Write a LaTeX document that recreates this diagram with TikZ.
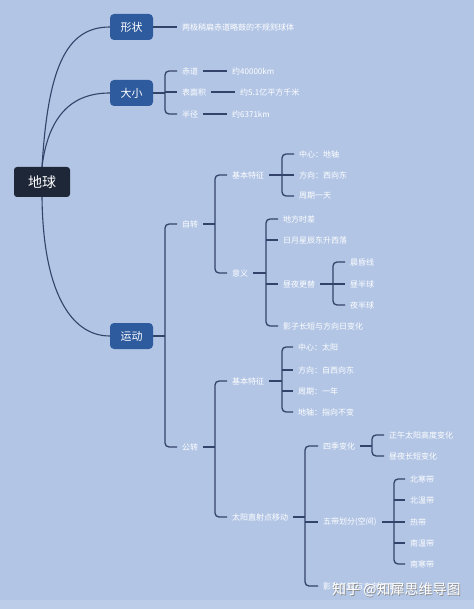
\documentclass[tikz,border=0pt]{standalone}
\usepackage{fontspec}
\setmainfont{Noto Sans CJK SC}
\definecolor{bg}{HTML}{B2C5E5}
\definecolor{bgl}{HTML}{BCCDEA}
\definecolor{boxb}{HTML}{2E5B9E}
\definecolor{boxd}{HTML}{1D2738}
\definecolor{ln}{HTML}{34436A}
\begin{document}
\begin{tikzpicture}[x=1pt,y=-1pt,
  conn/.style={draw=ln,line width=1.3pt,rounded corners=4pt},
  curve/.style={draw=ln,line width=1.1pt},
  lbl/.style={anchor=west,text=white,font=\fontsize{8}{9}\selectfont,inner xsep=5pt,inner ysep=1pt},
  mainbox/.style={fill=boxb,rounded corners=4pt,text=white,font=\fontsize{11}{12}\selectfont,minimum width=43pt,minimum height=26pt,inner sep=0pt},
  rootbox/.style={fill=boxd,rounded corners=3pt,text=white,font=\fontsize{14}{15}\selectfont,minimum width=56pt,minimum height=30pt,inner sep=0pt}]
\fill[bg] (0,0) rectangle (474,609);
\fill[bgl] (0,600) rectangle (474,609);
\useasboundingbox (0,0) rectangle (474,609);
% root and main boxes
\node[rootbox] (root) at (42,182) {地球};
\node[mainbox] (xz) at (131.5,27) {形状};
\node[mainbox] (dx) at (131.5,93) {大小};
\node[mainbox] (yd) at (131.5,336) {运动};
\draw[curve] (root.north) .. controls (48,70) and (65,27) .. (xz.west);
\draw[curve] (root.north) .. controls (48,118) and (70,93) .. (dx.west);
\draw[curve] (root.south) .. controls (43,290) and (70,336) .. (yd.west);
% 形状
\node[lbl] (xz1) at (177,27) {两极稍扁赤道略鼓的不规则球体};
\draw[conn] (xz.east) -- (xz1.west);
% 大小
\coordinate (bA) at (165,0);
\node[lbl] (cd) at (177,71) {赤道};
\node[lbl] (bmj) at (177,92) {表面积};
\node[lbl] (bj) at (177,114) {半径};
\node[lbl] (cdv) at (227,71) {约40000km};
\node[lbl] (bmjv) at (235,92) {约5.1亿平方千米};
\node[lbl] (bjv) at (227,114) {约6371km};
\draw[conn] (dx.east) -- (dx.east -| bA);
\draw[conn] (cd.west) -- (cd.west -| bA) -- (bj.west -| bA) -- (bj.west);
\draw[conn] (bmj.west -| bA) -- (bmj.west);
\draw[conn] (cd.east) -- (cdv.west);
\draw[conn] (bmj.east) -- (bmjv.west);
\draw[conn] (bj.east) -- (bjv.west);
% 运动
\node[lbl] (zz) at (177,224) {自转};
\node[lbl] (gz) at (177,447) {公转};
\draw[conn] (yd.east) -- (yd.east -| bA);
\draw[conn] (zz.west) -- (zz.west -| bA) -- (gz.west -| bA) -- (gz.west);
% 自转
\coordinate (bB) at (215,0);
\node[lbl] (zjb) at (227,175) {基本特征};
\node[lbl] (zyy) at (227,273) {意义};
\draw[conn] (zz.east) -- (zz.east -| bB);
\draw[conn] (zjb.west) -- (zjb.west -| bB) -- (zyy.west -| bB) -- (zyy.west);
\coordinate (bC) at (282,0);
\node[lbl] (z1) at (294,154) {中心：地轴};
\node[lbl] (z2) at (294,175) {方向：西向东};
\node[lbl] (z3) at (294,196) {周期一天};
\draw[conn] (zjb.east) -- (zjb.east -| bC);
\draw[conn] (z1.west) -- (z1.west -| bC) -- (z3.west -| bC) -- (z3.west);
\draw[conn] (z2.west -| bC) -- (z2.west);
\coordinate (bD) at (266,0);
\node[lbl] (y1) at (278,219) {地方时差};
\node[lbl] (y2) at (278,240) {日月星辰东升西落};
\node[lbl] (y3) at (278,284) {昼夜更替};
\node[lbl] (y4) at (278,326) {影子长短与方向日变化};
\draw[conn] (zyy.east) -- (zyy.east -| bD);
\draw[conn] (y1.west) -- (y1.west -| bD) -- (y4.west -| bD) -- (y4.west);
\draw[conn] (y2.west -| bD) -- (y2.west);
\draw[conn] (y3.west -| bD) -- (y3.west);
\coordinate (bE) at (333,0);
\node[lbl] (w1) at (345,262) {晨昏线};
\node[lbl] (w2) at (345,284) {昼半球};
\node[lbl] (w3) at (345,305) {夜半球};
\draw[conn] (y3.east) -- (y3.east -| bE);
\draw[conn] (w1.west) -- (w1.west -| bE) -- (w3.west -| bE) -- (w3.west);
\draw[conn] (w2.west -| bE) -- (w2.west);
% 公转
\node[lbl] (gjb) at (227,381) {基本特征};
\node[lbl] (gzs) at (227,517) {太阳直射点移动};
\draw[conn] (gz.east) -- (gz.east -| bB);
\draw[conn] (gjb.west) -- (gjb.west -| bB) -- (gzs.west -| bB) -- (gzs.west);
\node[lbl] (g1) at (293,347) {中心：太阳};
\node[lbl] (g2) at (293,370) {方向：自西向东};
\node[lbl] (g3) at (293,391) {周期：一年};
\node[lbl] (g4) at (293,412) {地轴：指向不变};
\draw[conn] (gjb.east) -- (gjb.east -| bC);
\draw[conn] (g1.west) -- (g1.west -| bC) -- (g4.west -| bC) -- (g4.west);
\draw[conn] (g2.west -| bC) -- (g2.west);
\draw[conn] (g3.west -| bC) -- (g3.west);
\coordinate (bF) at (305,0);
\node[lbl] (s1) at (318,446) {四季变化};
\node[lbl] (s2) at (318,522) {五带划分(空间)};
\node[lbl] (s3) at (318,586) {影子长短与方向年变化};
\draw[conn] (gzs.east) -- (gzs.east -| bF);
\draw[conn] (s1.west) -- (s1.west -| bF) -- (s3.west -| bF) -- (s3.west);
\draw[conn] (s2.west -| bF) -- (s2.west);
\coordinate (bG) at (372,0);
\node[lbl] (q1) at (384,435) {正午太阳高度变化};
\node[lbl] (q2) at (384,456) {昼夜长短变化};
\draw[conn] (s1.east) -- (s1.east -| bG);
\draw[conn] (q1.west) -- (q1.west -| bG) -- (q2.west -| bG) -- (q2.west);
\coordinate (bH) at (394,0);
\node[lbl] (d1) at (405,479) {北寒带};
\node[lbl] (d2) at (405,500) {北温带};
\node[lbl] (d3) at (405,522) {热带};
\node[lbl] (d4) at (405,543) {南温带};
\node[lbl] (d5) at (405,564) {南寒带};
\draw[conn] (s2.east) -- (s2.east -| bH);
\draw[conn] (d1.west) -- (d1.west -| bH) -- (d5.west -| bH) -- (d5.west);
\draw[conn] (d2.west -| bH) -- (d2.west);
\draw[conn] (d3.west -| bH) -- (d3.west);
\draw[conn] (d4.west -| bH) -- (d4.west);
% watermark
\node[anchor=west,text=black!45,font=\fontsize{14}{15}\selectfont,inner sep=0pt] (wms) at (332.8,590.8) {知乎 @知犀思维导图};
\node[anchor=west,text=white,font=\fontsize{14}{15}\selectfont,inner sep=0pt] (wm) at (332,590) {知乎 @知犀思维导图};
\end{tikzpicture}
\end{document}
